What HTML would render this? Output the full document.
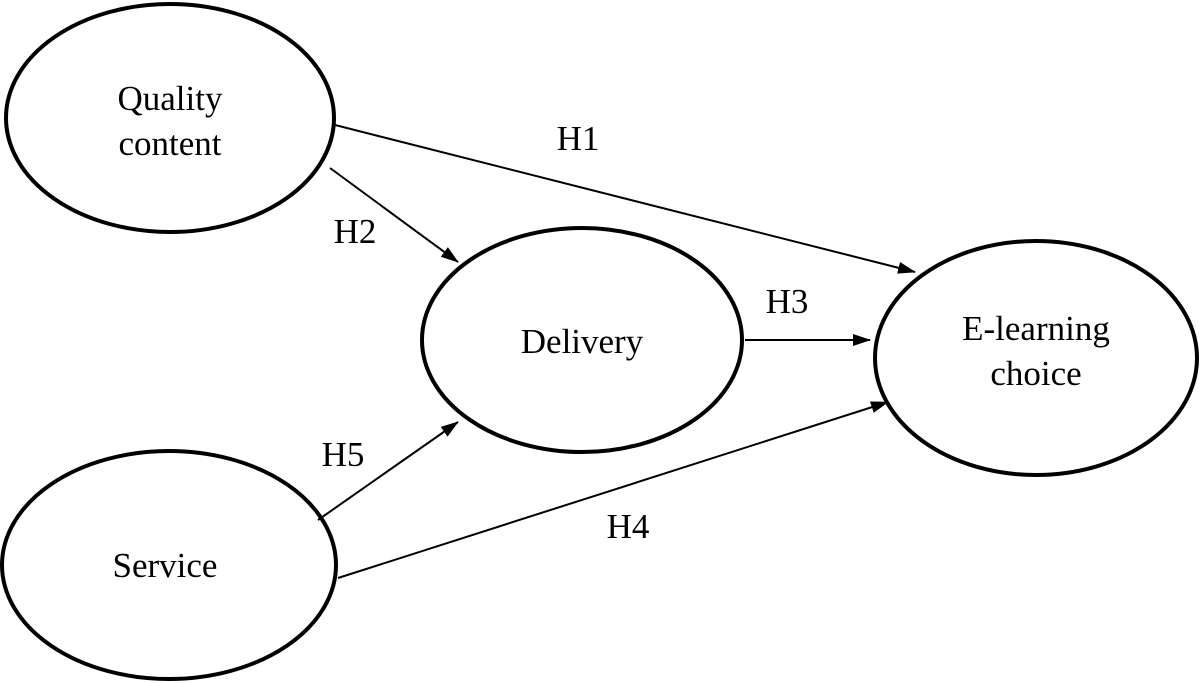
<!DOCTYPE html>
<html><head><meta charset="utf-8"><style>
html,body{margin:0;padding:0;background:#fff;}
svg{display:block;}
text{font-family:"Liberation Serif",serif;font-size:35px;fill:#000;}
</style></head><body>
<svg width="1200" height="683" viewBox="0 0 1200 683" xmlns="http://www.w3.org/2000/svg">
<defs>
<marker id="a" markerWidth="18" markerHeight="12" refX="17" refY="6" orient="auto" markerUnits="userSpaceOnUse">
<path d="M0,0 L18,6 L0,12 z" fill="#000"/>
</marker>
</defs>
<g fill="none" stroke="#000" stroke-width="4">
<ellipse cx="170" cy="118" rx="164" ry="114"/>
<ellipse cx="582" cy="340" rx="160" ry="112"/>
<ellipse cx="1036" cy="358" rx="161" ry="117"/>
<ellipse cx="169" cy="565" rx="167" ry="114"/>
</g>
<g stroke="#000" stroke-width="2" marker-end="url(#a)">
<line x1="335" y1="125" x2="915" y2="272"/>
<line x1="330" y1="168" x2="458" y2="262"/>
<line x1="745" y1="340" x2="870" y2="340"/>
<line x1="318" y1="520" x2="458" y2="422"/>
<line x1="338" y1="578" x2="888" y2="402"/>
</g>
<g text-anchor="middle">
<text x="170" y="110">Quality</text>
<text x="170" y="155">content</text>
<text x="582" y="353">Delivery</text>
<text x="1036" y="340">E-learning</text>
<text x="1036" y="385">choice</text>
<text x="165" y="577">Service</text>
<text x="578" y="150">H1</text>
<text x="355" y="243">H2</text>
<text x="787" y="313">H3</text>
<text x="343" y="466">H5</text>
<text x="628" y="538">H4</text>
</g>
</svg>
</body></html>
